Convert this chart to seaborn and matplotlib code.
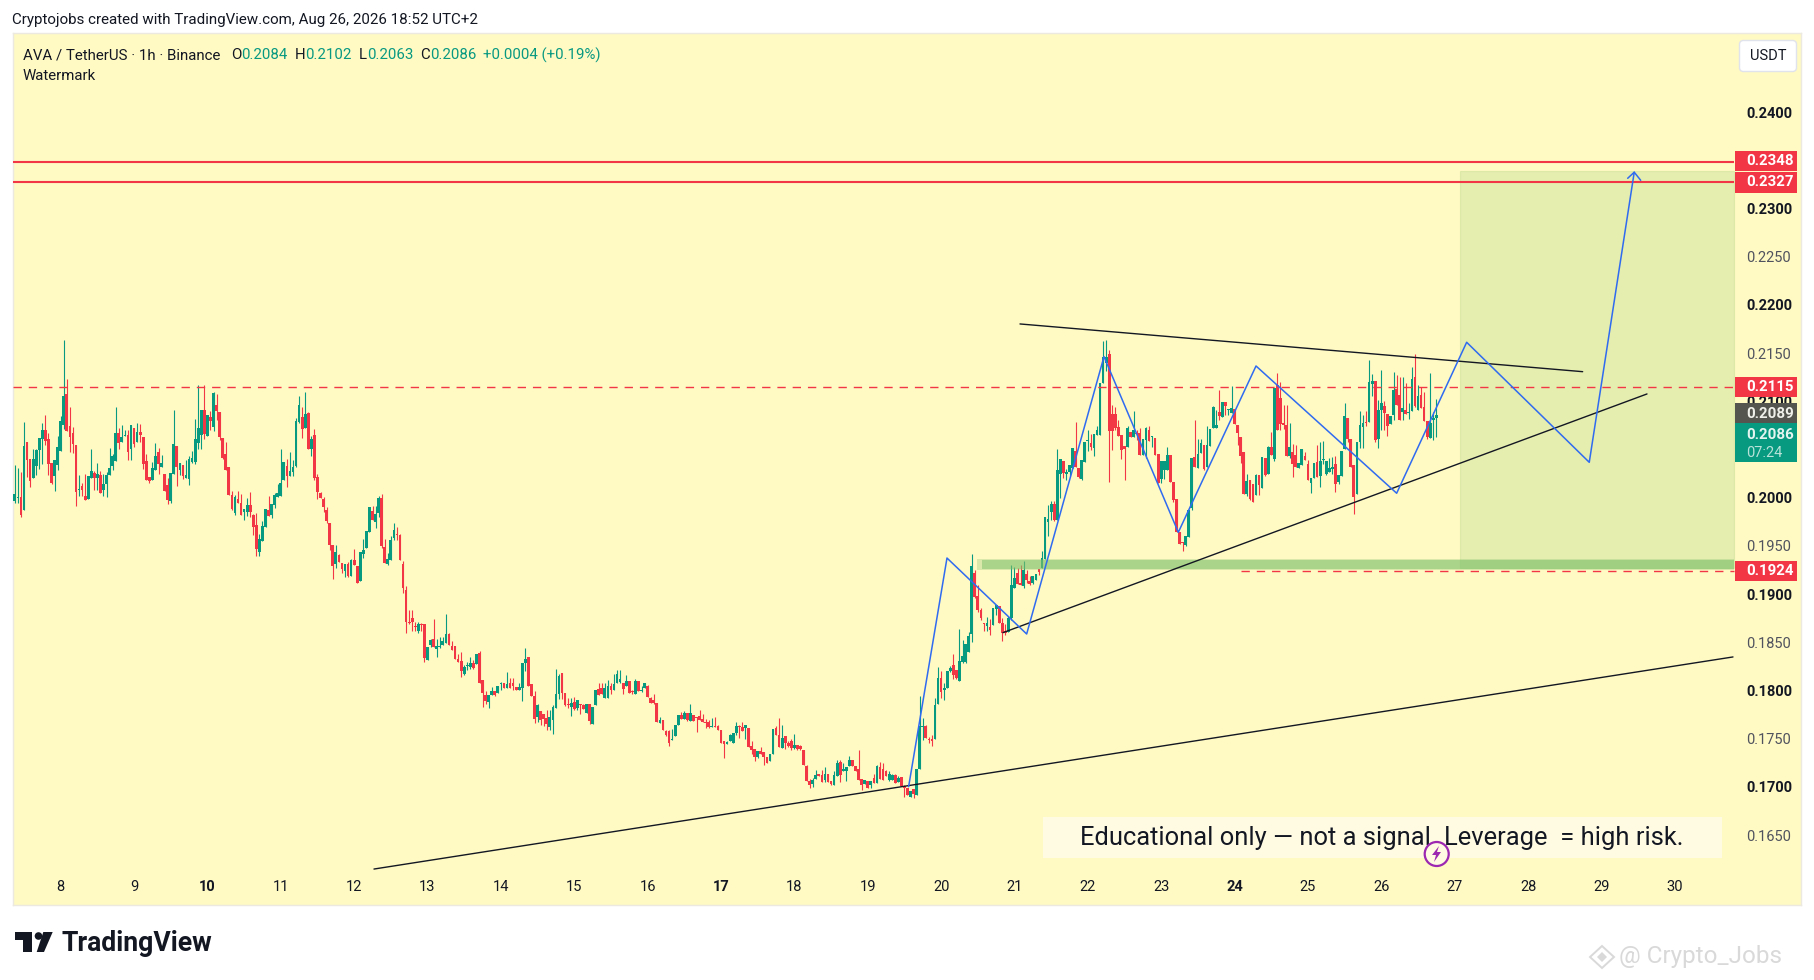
import numpy as np
import pandas as pd
import matplotlib
matplotlib.use("Agg")
import matplotlib.pyplot as plt
import seaborn as sns
from matplotlib.patches import Rectangle, FancyBboxPatch, Polygon, Circle
from matplotlib.transforms import Affine2D

# prices in 1e-4 USDT, one candle per hour
opens = [
    1997,2000,2001,1987,2058,2040,2020,2033,2049,2061, 2070,2061,2036,2022,2034,2048,2075,2108,2074,2067,
    2055,2008,2012,2002,1999,2020,2026,2020,2024,2008, 2014,2024,2033,2038,2067,2058,2064,2065,2050,2072,
    2058,2068,2063,2038,2021,2018,2029,2047,2032,2025, 2013,1997,2025,2054,2029,2034,2020,2019,2037,2037,
    2057,2065,2091,2064,2084,2073,2096,2089,2062,2045, 2032,2003,1984,1999,1995,1985,1985,1992,1982,1972,
    1944,1955,1970,1987,1982,1992,2001,2002,2018,2033, 2022,2027,2033,2078,2084,2072,2088,2051,2065,2021,
    2005,1999,1987,1974,1951,1931,1941,1932,1924,1931, 1919,1935,1929,1914,1942,1948,1964,1986,1975,1984,
    2000,1949,1931,1935,1958,1962,1961,1931,1904,1871, 1875,1867,1862,1869,1869,1832,1847,1853,1843,1845,
    1847,1849,1859,1846,1846,1833,1831,1817,1825,1824, 1829,1828,1839,1811,1795,1788,1795,1799,1797,1807,
    1808,1803,1808,1808,1804,1801,1803,1829,1835,1807, 1794,1773,1779,1776,1771,1762,1769,1782,1796,1818,
    1797,1786,1783,1788,1782,1786,1785,1777,1786,1765, 1785,1802,1803,1792,1792,1805,1800,1808,1809,1808,
    1805,1810,1799,1796,1810,1799,1803,1805,1792,1790, 1787,1766,1769,1758,1758,1749,1753,1764,1775,1770,
    1777,1768,1775,1773,1774,1770,1767,1767,1762,1763, 1763,1759,1748,1745,1748,1746,1756,1763,1762,1761,
    1761,1742,1739,1731,1737,1736,1731,1727,1734,1761, 1754,1740,1753,1746,1748,1740,1743,1742,1738,1722,
    1706,1703,1708,1713,1712,1707,1713,1706,1702,1711, 1726,1716,1716,1722,1728,1722,1719,1708,1703,1706,
    1702,1709,1704,1721,1719,1716,1707,1707,1712,1705, 1710,1701,1699,1690,1698,1692,1719,1762,1763,1750,
    1749,1750,1786,1813,1801,1803,1820,1826,1821,1810, 1830,1830,1840,1859,1922,1898,1884,1870,1867,1866,
    1868,1885,1888,1870,1861,1861,1875,1906,1922,1912, 1908,1921,1914,1911,1915,1926,1927,1936,1975,1985,
    1993,1977,2025,2038,2025,2027,2031,2048,2031,2019, 2037,2059,2057,2052,2065,2065,2119,2140,2149,2087,
    2087,2073,2065,2054,2053,2068,2063,2067,2067,2044, 2060,2070,2063,2062,2045,2019,2029,2029,2044,2016,
    1999,1964,1954,1951,1959,1989,2042,2031,2046,2055, 2032,2054,2072,2072,2089,2084,2099,2091,2088,2092,
    2075,2063,2047,2004,2018,2014,2003,2024,2010,2041, 2025,2053,2040,2117,2103,2077,2075,2043,2047,2044,
    2031,2034,2043,2035,2015,2020,2037,2022,2039,2025, 2027,2030,2035,2016,2022,2050,2083,2061,2034,2004,
    2058,2073,2079,2078,2118,2121,2061,2091,2095,2087, 2076,2086,2113,2107,2089,2091,2088,2090,2125,2091,
    2106,2094,2080,2062,2081,2083,
]
highs = [
    2034,2031,2027,2078,2058,2040,2050,2050,2062,2077, 2086,2067,2036,2039,2064,2085,2164,2123,2094,2073,
    2055,2024,2015,2025,2022,2050,2028,2036,2028,2025, 2027,2052,2045,2094,2072,2075,2070,2070,2075,2072,
    2077,2076,2063,2045,2021,2037,2057,2052,2044,2025, 2020,2026,2091,2054,2036,2034,2039,2043,2048,2082,
    2117,2091,2117,2086,2090,2110,2108,2089,2062,2058, 2032,2007,2003,2007,2004,1988,2000,2006,1983,1984,
    1962,1976,1988,2002,1993,2005,2014,2050,2037,2040, 2047,2039,2083,2105,2094,2110,2089,2064,2071,2025,
    2006,2001,1990,1974,1951,1951,1942,1932,1931,1933, 1936,1947,1929,1944,1957,1965,1990,1991,1991,2002,
    2004,1957,1943,1960,1974,1970,1962,1934,1908,1883, 1883,1871,1871,1870,1869,1845,1853,1874,1853,1856,
    1856,1879,1860,1851,1846,1838,1840,1826,1830,1835, 1832,1838,1841,1811,1799,1795,1804,1799,1805,1809,
    1808,1819,1813,1813,1804,1808,1829,1844,1835,1807, 1799,1786,1779,1776,1780,1780,1785,1822,1817,1818,
    1797,1792,1792,1793,1790,1786,1786,1786,1786,1783, 1800,1808,1808,1808,1811,1808,1817,1821,1821,1808,
    1816,1810,1800,1812,1810,1805,1808,1806,1793,1796, 1787,1773,1769,1759,1759,1760,1764,1775,1778,1779,
    1777,1786,1775,1773,1780,1776,1770,1769,1771,1772, 1764,1759,1748,1748,1755,1756,1767,1764,1767,1764,
    1761,1748,1739,1737,1741,1736,1731,1734,1760,1763, 1771,1764,1753,1748,1750,1755,1743,1743,1738,1723,
    1708,1709,1718,1713,1718,1721,1713,1706,1717,1728, 1728,1725,1721,1732,1728,1722,1738,1708,1707,1706,
    1706,1713,1723,1726,1725,1718,1716,1713,1713,1711, 1710,1702,1699,1696,1698,1719,1794,1771,1764,1752,
    1754,1792,1824,1820,1808,1820,1825,1838,1821,1864, 1852,1848,1861,1942,1925,1909,1886,1870,1876,1874,
    1886,1889,1888,1875,1869,1877,1930,1928,1927,1930, 1934,1925,1919,1919,1921,1926,1945,1980,1992,1997,
    1997,2050,2040,2038,2030,2034,2052,2078,2031,2039, 2058,2070,2066,2066,2074,2119,2163,2164,2153,2096,
    2094,2081,2065,2054,2074,2068,2090,2070,2072,2061, 2073,2074,2064,2062,2045,2038,2038,2053,2044,2016,
    1999,1964,1954,1960,1987,2041,2081,2061,2061,2055, 2074,2071,2095,2091,2112,2099,2099,2092,2116,2092,
    2075,2063,2047,2025,2018,2014,2025,2024,2042,2041, 2054,2068,2114,2129,2120,2096,2096,2077,2056,2055,
    2036,2051,2047,2039,2020,2036,2055,2058,2059,2038, 2041,2042,2043,2024,2048,2098,2083,2061,2034,2058,
    2090,2086,2090,2143,2128,2121,2101,2132,2100,2087, 2085,2130,2127,2125,2125,2119,2098,2136,2149,2117,
    2115,2110,2080,2129,2089,2102,
]
lows = [
    1995,1995,1980,1987,2021,2011,2020,2024,2030,2035, 2055,2024,2014,2007,2029,2048,2071,2069,2047,2046,
    1991,2002,2002,1998,1999,2020,2008,2008,2005,2002, 2001,2024,2029,2038,2050,2058,2064,2039,2039,2053,
    2058,2058,2030,2018,2015,2018,2029,2025,2032,2007, 1993,1994,2025,2012,2024,2019,2020,2013,2036,2035,
    2050,2050,2061,2064,2070,2069,2081,2060,2040,2029, 2003,1987,1982,1994,1982,1977,1981,1980,1961,1939,
    1939,1955,1970,1981,1979,1989,2001,2002,2018,2011, 2022,2022,2032,2077,2062,2072,2050,2043,2018,1999,
    2000,1985,1974,1946,1916,1927,1933,1922,1918,1918, 1919,1930,1911,1914,1937,1948,1964,1977,1969,1980,
    1948,1932,1930,1935,1956,1956,1935,1901,1860,1869, 1862,1862,1860,1862,1830,1832,1845,1845,1835,1844,
    1847,1849,1847,1842,1833,1830,1814,1816,1821,1822, 1822,1828,1808,1783,1786,1782,1795,1794,1797,1801,
    1803,1803,1803,1800,1800,1801,1789,1820,1805,1794, 1766,1767,1764,1763,1759,1759,1755,1782,1791,1791,
    1784,1782,1774,1780,1780,1776,1781,1777,1765,1765, 1785,1795,1796,1792,1792,1796,1800,1808,1808,1796,
    1805,1797,1796,1796,1799,1798,1803,1793,1787,1786, 1767,1766,1759,1753,1742,1749,1753,1764,1770,1770,
    1768,1768,1768,1757,1769,1767,1761,1761,1762,1762, 1759,1746,1730,1744,1748,1746,1754,1751,1758,1750,
    1741,1734,1727,1730,1734,1723,1725,1727,1734,1754, 1741,1740,1739,1741,1738,1739,1738,1738,1723,1706,
    1699,1700,1708,1711,1705,1705,1705,1702,1702,1711, 1705,1716,1706,1722,1722,1716,1707,1697,1703,1699,
    1699,1704,1704,1708,1707,1711,1706,1707,1704,1705, 1701,1690,1692,1690,1689,1692,1719,1749,1751,1746,
    1742,1750,1786,1792,1790,1803,1819,1812,1812,1810, 1829,1829,1840,1850,1896,1881,1873,1862,1862,1858,
    1868,1878,1870,1851,1858,1861,1873,1906,1910,1909, 1906,1911,1909,1910,1915,1920,1927,1936,1960,1977,
    1976,1977,2000,2020,2018,2022,2031,2032,2020,2018, 2037,2048,2049,2043,2065,2065,2119,2131,2016,2049,
    2070,2064,2040,2018,2053,2063,2063,2060,2044,2044, 2041,2059,2053,2044,2015,2015,2019,2029,2016,1996,
    1964,1952,1945,1950,1959,1987,2032,2031,2046,2029, 2032,2054,2072,2072,2081,2084,2086,2086,2088,2076,
    2055,2036,2004,2002,1998,1996,2003,2003,2010,2022, 2025,2044,2038,2070,2070,2071,2043,2041,2021,2032,
    2031,2034,2039,2018,2005,2020,2021,2011,2035,2024, 2027,2025,2006,2014,2022,2050,2058,2032,1983,2004,
    2052,2052,2074,2078,2105,2058,2052,2070,2070,2064, 2076,2081,2096,2081,2081,2087,2082,2090,2094,2091,
    2093,2080,2061,2062,2060,2063,
]
closes = [
    2004,2001,1982,2054,2039,2017,2040,2049,2062,2070, 2059,2035,2015,2039,2053,2080,2105,2069,2063,2056,
    2006,2009,2008,1998,2022,2028,2020,2025,2005,2014, 2024,2031,2043,2067,2057,2063,2065,2047,2075,2056,
    2068,2065,2035,2018,2017,2031,2043,2035,2036,2007, 1998,2026,2056,2032,2036,2022,2024,2040,2041,2061,
    2072,2091,2066,2086,2080,2109,2090,2063,2041,2029, 2003,1988,2001,1994,1982,1988,1992,1985,1970,1947,
    1957,1971,1988,1981,1993,2003,2005,2015,2037,2022, 2028,2032,2080,2096,2071,2087,2050,2061,2020,2006,
    2000,1990,1976,1951,1929,1944,1933,1926,1931,1919, 1935,1930,1911,1944,1946,1965,1990,1977,1983,2000,
    1950,1932,1936,1956,1966,1961,1935,1906,1871,1870, 1871,1866,1869,1868,1834,1845,1852,1845,1846,1846,
    1851,1859,1847,1842,1833,1830,1820,1824,1826,1829, 1823,1838,1808,1797,1789,1795,1799,1795,1805,1808,
    1803,1807,1803,1805,1801,1804,1829,1833,1805,1794, 1770,1785,1769,1770,1765,1772,1783,1796,1815,1797,
    1785,1785,1787,1781,1790,1785,1781,1786,1768,1783, 1800,1795,1796,1803,1805,1800,1807,1817,1812,1802,
    1810,1797,1798,1810,1799,1800,1808,1793,1787,1787, 1767,1769,1759,1754,1746,1750,1764,1775,1770,1777,
    1769,1777,1768,1771,1769,1767,1766,1762,1763,1762, 1759,1746,1745,1746,1754,1756,1763,1762,1758,1764,
    1741,1738,1731,1737,1734,1731,1725,1734,1760,1754, 1741,1751,1746,1742,1740,1743,1739,1739,1723,1706,
    1702,1707,1712,1711,1705,1713,1705,1703,1712,1725, 1712,1719,1721,1728,1722,1716,1707,1702,1707,1699,
    1706,1704,1722,1708,1707,1711,1713,1712,1704,1709, 1701,1699,1692,1696,1693,1719,1763,1763,1751,1749,
    1748,1785,1813,1798,1802,1820,1823,1816,1813,1831, 1836,1848,1857,1929,1897,1884,1875,1869,1870,1863,
    1886,1889,1870,1860,1860,1875,1909,1917,1910,1909, 1925,1915,1910,1919,1921,1923,1937,1980,1978,1993,
    1977,2029,2040,2026,2026,2034,2052,2032,2021,2039, 2058,2060,2053,2066,2070,2119,2146,2146,2069,2069,
    2072,2064,2049,2051,2072,2063,2070,2066,2044,2061, 2072,2059,2064,2044,2015,2038,2038,2044,2016,1998,
    1964,1952,1953,1960,1987,2041,2032,2045,2057,2030, 2055,2071,2094,2075,2085,2099,2095,2092,2093,2076,
    2067,2043,2004,2017,1999,1996,2024,2013,2042,2024, 2053,2044,2114,2070,2076,2075,2043,2053,2035,2032,
    2036,2050,2039,2018,2020,2036,2021,2038,2040,2038, 2031,2032,2014,2024,2048,2085,2061,2032,2001,2058,
    2075,2077,2077,2120,2121,2060,2091,2098,2088,2074, 2085,2112,2096,2081,2093,2087,2089,2123,2095,2105,
    2093,2080,2063,2077,2082,2086,
]

day_ticks = list(range(8, 31))
bold_days = [10, 17, 24]
price_ticks = [0.2400, 0.2300, 0.2250, 0.2200, 0.2150, 0.2100, 0.2000, 0.1950,
               0.1900, 0.1850, 0.1800, 0.1750, 0.1700, 0.1650]
light_ticks = [0.2250, 0.2150, 0.1950, 0.1850, 0.1750, 0.1650]

# drawings on the chart (day of month, price)
resist_days = [21.075, 28.744]
resist_prices = [0.21802, 0.21307]
rising_days = [20.843, 29.621]
rising_prices = [0.18600, 0.21076]
long_days = [12.270, 30.793]
long_prices = [0.16148, 0.18348]
path_days = [19.557, 20.080, 21.166, 22.220, 23.233, 24.292, 26.209, 27.163, 28.834, 29.447]
path_prices = [0.17002, 0.19374, 0.18586, 0.21463, 0.19641, 0.21366, 0.20046, 0.21612, 0.20367, 0.23376]
head_days = [29.358, 29.447, 29.535]
head_prices = [0.23313, 0.23376, 0.23292]

GREEN = "#089981"
RED = "#f23645"
BG = "#fff9c4"
INK = "#131722"

sns.set_theme(style="white")
plt.rcParams["font.family"] = ["Roboto", "DejaVu Sans"]

fig = plt.figure(figsize=(18.14, 9.8), dpi=100, facecolor="white")
ax = fig.add_axes([13 / 1814, 1 - 905 / 980, 1788 / 1814, 872 / 980], facecolor=BG)
# pixel positions of the reference, for the page furniture only
px = Affine2D().scale(1 / 1814, -1 / 980).translate(0, 1) + fig.transFigure

XMIN, XMAX = 7.350, 31.720
PLOT_END = 30.807
ax.set_xlim(XMIN, XMAX)
ax.set_ylim(0.15775, 0.24820)

# candles
candles = pd.DataFrame({"o": opens, "h": highs, "l": lows, "c": closes}) / 10000
candles["day"] = 8 + (np.arange(len(candles)) - 15) / 24
up = candles["c"] >= candles["o"]
colors = np.where(up, GREEN, RED)
body_low = candles[["o", "c"]].min(axis=1)
body_h = (candles["c"] - candles["o"]).abs().clip(lower=0.00012)
ax.vlines(candles["day"], candles["l"], candles["h"], colors=colors, lw=0.8, zorder=3)
ax.bar(candles["day"], body_h, bottom=body_low, width=0.037, color=colors, linewidth=0, zorder=3)

# long position box and support strip
ax.add_patch(Rectangle((27.072, 0.1927), PLOT_END - 27.072, 0.0412, fc="#a5d07a", alpha=0.28,
                       ec="#a5d07a", lw=0.8, zorder=2))
ax.add_patch(Rectangle((20.489, 0.19250), PLOT_END - 20.489, 0.00115, fc="#7cc06a", alpha=0.28, lw=0, zorder=4))
ax.add_patch(Rectangle((20.56, 0.19265), PLOT_END - 20.56, 0.00085, fc="#7cc06a", alpha=0.5, lw=0, zorder=4))

# levels
ax.hlines([0.2348, 0.2327], XMIN, PLOT_END, colors=RED, lw=1.5, zorder=4)
ax.hlines(0.2115, XMIN, PLOT_END, colors=RED, lw=1.0, linestyles=(0, (6, 5)), zorder=4)
ax.hlines(0.1924, 24.087, PLOT_END, colors=RED, lw=1.0, linestyles=(0, (6, 5)), zorder=4)

# trend lines and projected path
for xs, ys in [(resist_days, resist_prices), (rising_days, rising_prices), (long_days, long_prices)]:
    sns.lineplot(x=xs, y=ys, ax=ax, color="#131722", lw=1.0, zorder=5, legend=False)
for xs, ys in [(path_days, path_prices), (head_days, head_prices)]:
    sns.lineplot(x=xs, y=ys, ax=ax, color="#2f6bf0", lw=1.1, sort=False, estimator=None, zorder=5, legend=False)
ax.set_xlabel("")
ax.set_ylabel("")

# axes
ax.set_xticks(day_ticks)
ax.set_xticklabels([str(d) for d in day_ticks], fontsize=10.5, color=INK)
for lab, d in zip(ax.get_xticklabels(), day_ticks):
    if d in bold_days:
        lab.set_fontweight("bold")
ax.tick_params(axis="x", length=0, pad=-18)
ax.yaxis.tick_right()
ax.set_yticks(price_ticks)
ax.set_yticklabels([f"{p:.4f}" for p in price_ticks], fontsize=10.5)
for lab, p in zip(ax.get_yticklabels(), price_ticks):
    if p in light_ticks:
        lab.set_color("#50535e")
    else:
        lab.set_color(INK)
        lab.set_fontweight("bold")
ax.tick_params(axis="y", length=0, pad=-39.5)
ax.grid(False)
for s in ax.spines.values():
    s.set_color("#eceae0")
    s.set_linewidth(1)

# price tags
TAG_L, TAG_W = 30.82, 0.84
TAG_TX = 30.97
for p, txt, col in [(0.23495, "0.2348", RED), (0.2327, "0.2327", RED), (0.2115, "0.2115", RED), (0.1924, "0.1924", RED)]:
    ax.add_patch(Rectangle((TAG_L, p - 0.00105), TAG_W, 0.0021, fc=col, lw=0, zorder=6))
    ax.text(TAG_TX, p, txt, color="white", fontsize=10.8, fontweight="bold", va="center", zorder=7)
ax.add_patch(Rectangle((TAG_L, 0.20775), TAG_W, 0.0021, fc="#555550", lw=0, zorder=6))
ax.text(TAG_TX, 0.20870, "0.2089", color="#f0f0ea", fontsize=10.8, fontweight="bold", va="center", zorder=7)
ax.add_patch(Rectangle((TAG_L, 0.20370), TAG_W, 0.00405, fc=GREEN, lw=0, zorder=6))
ax.text(TAG_TX, 0.20650, "0.2086", color="#e4f5f0", fontsize=10.8, fontweight="bold", va="center", zorder=7)
ax.text(TAG_TX, 0.20465, "07:24", color="#b8e3d8", fontsize=10.5, va="center", zorder=7)

# note box
fig.add_artist(Rectangle((1043, 817), 679, 41, transform=px, fc="#fffbe3", lw=0, zorder=2))
fig.text(1080, 838, "Educational only \u2014 not a signal. Leverage  = high risk.", transform=px,
         fontsize=18.4, color=INK, va="center", ha="left", zorder=3)
fig.add_artist(Circle((1436.7, 854), 12, transform=px, fc="#fffbe3", ec="#9c27b0", lw=1.6, zorder=4))
fig.add_artist(Polygon([(1439, 846), (1432, 855), (1436, 855), (1434, 862), (1441, 852), (1437, 852)],
                       transform=px, fc="#9c27b0", lw=0, zorder=5))

# header
fig.text(12, 20, "Cryptojobs created with TradingView.com, Aug 26, 2026 18:52 UTC+2", transform=px,
         fontsize=10.9, color=INK, va="center")
fig.text(23, 55, "AVA / TetherUS \u00b7 1h \u00b7 Binance", transform=px, fontsize=10.8, color=INK, va="center")
fig.text(23, 76, "Watermark", transform=px, fontsize=10.8, color=INK, va="center")
for x, lab in [(231, "O"), (295, "H"), (359, "L"), (420, "C")]:
    fig.text(x, 55, lab, transform=px, fontsize=10.8, color=INK, va="center")
for x, lab in [(241, "0.2084"), (305, "0.2102"), (367, "0.2063"), (430, "0.2086"), (483, "+0.0004 (+0.19%)")]:
    fig.text(x, 55, lab, transform=px, fontsize=10.8, color=GREEN, va="center")

# currency button
fig.add_artist(FancyBboxPatch((1742, 43), 52, 26, boxstyle="round,pad=2.5,rounding_size=4", transform=px,
                              fc="white", ec="#e0e3eb", lw=1, zorder=2))
fig.text(1768, 55.5, "USDT", transform=px, fontsize=10.5, color=INK, ha="center", va="center", zorder=3)

# footer logo
LOGO = "#131722"
fig.add_artist(Polygon([(15, 932), (31.7, 932), (31.7, 952), (23.3, 952), (23.3, 940), (15, 940)], transform=px, fc=LOGO, lw=0))
fig.add_artist(Circle((38.5, 936), 3.8, transform=px, fc=LOGO, lw=0))
fig.add_artist(Polygon([(43.3, 932), (52.7, 932), (44, 952), (36.7, 952)], transform=px, fc=LOGO, lw=0))
fig.text(62, 943, "TradingView", transform=px, fontsize=19.2, fontweight="bold", color=LOGO, va="center")

# watermark
WM = "#d9d9d9"
fig.add_artist(Polygon([(1602, 946), (1614, 957), (1602, 968), (1590, 957)], transform=px, fc="none", ec=WM, lw=1.4))
fig.add_artist(Polygon([(1602, 952), (1607, 957), (1602, 962), (1597, 957)], transform=px, fc=WM, lw=0))
fig.text(1619, 956, "@ Crypto_Jobs", transform=px, fontsize=17.5, color=WM, va="center")

fig.savefig("out.png", dpi=100, facecolor="white")
